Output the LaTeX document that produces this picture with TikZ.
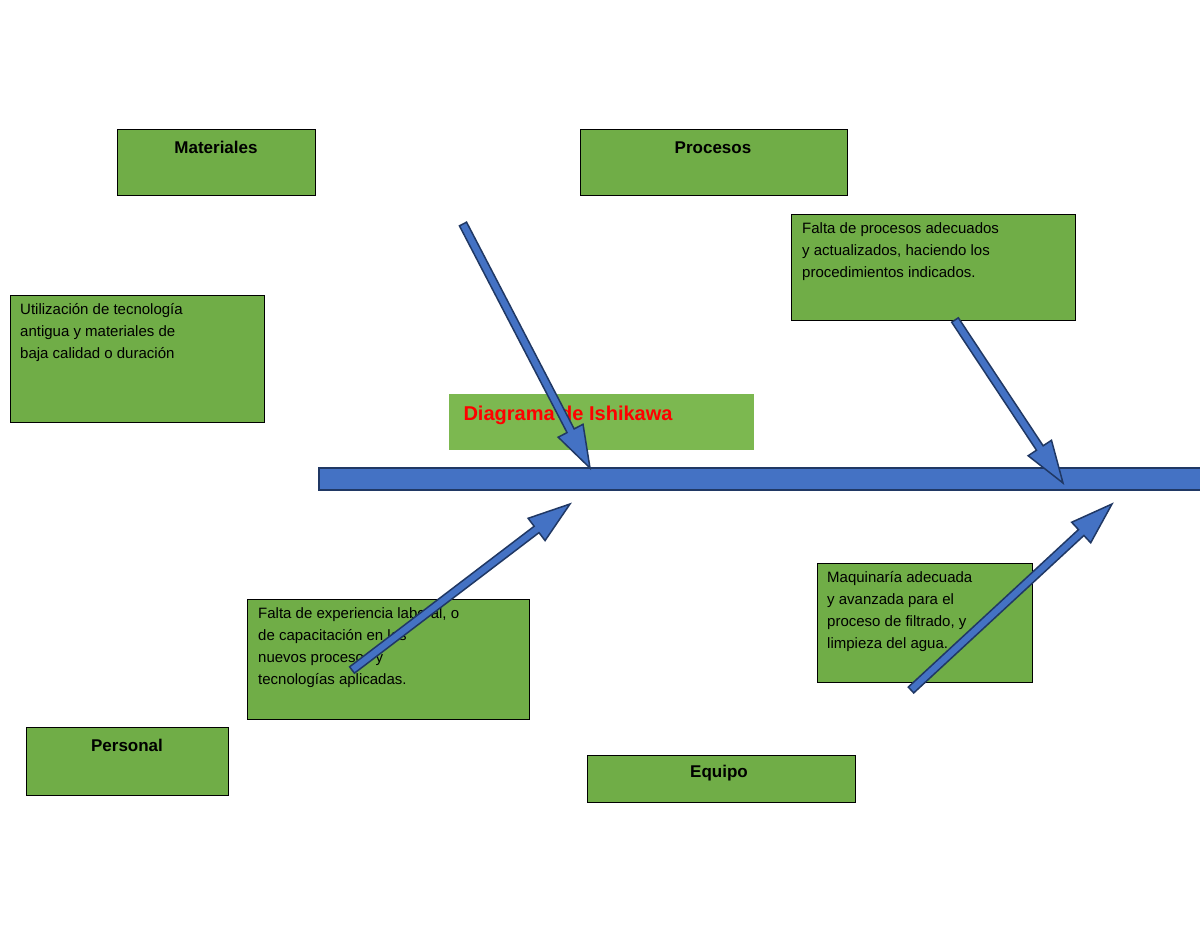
\documentclass[tikz,border=0pt]{standalone}
\usepackage{fontspec}
\setmainfont{Liberation Sans}
\usetikzlibrary{calc}
\definecolor{gbox}{HTML}{70AD47}
\definecolor{gtitle}{HTML}{7CB850}
\definecolor{bl}{HTML}{4472C4}
\definecolor{bld}{HTML}{203864}
\newcommand\blkarrow[2]{%
 \fill[bl,draw=bld,line width=1.5pt,line join=miter]
 ($(#1)!4pt!90:(#2)$) -- ($($(#2)!42pt!(#1)$)!4pt!-90:(#1)$) -- ($($(#2)!42pt!(#1)$)!14pt!-90:(#1)$) -- (#2)
 -- ($($(#2)!42pt!(#1)$)!14pt!90:(#1)$) -- ($($(#2)!42pt!(#1)$)!4pt!90:(#1)$) -- ($(#1)!4pt!-90:(#2)$) -- cycle;}
\begin{document}
\begin{tikzpicture}[x=1pt,y=-1pt,
 box/.style={draw=black,fill=gbox,line width=0.8pt},
 lab/.style={font=\fontsize{17}{20}\selectfont\bfseries},
 body/.style={font=\fontsize{15}{22}\selectfont,align=left,anchor=north west,inner sep=0pt}]
\useasboundingbox (0,0) rectangle (1200,927);
\fill[white] (0,0) rectangle (1200,927);
\draw[box] (117,129) rectangle (315,195); \node[lab] (mat) at (216,147) {Materiales};
\draw[box] (580,129) rectangle (847,195); \node[lab] (pro) at (713,148) {Procesos};
\draw[box] (10,295) rectangle (264,422);
\node[body] (t1) at (20,303) {Utilización de tecnología\\antigua y materiales de\\baja calidad o duración};
\draw[box] (791,214) rectangle (1075,320);
\node[body] (t2) at (802,222) {Falta de procesos adecuados\\y actualizados, haciendo los\\procedimientos indicados.};
\fill[gtitle] (449,394) rectangle (754,450);
\node[anchor=west,text=red,font=\fontsize{20}{24}\selectfont\bfseries] (tit) at (460,415) {Diagrama de Ishikawa};
\draw[box] (247,599) rectangle (529,719);
\node[body] (t3) at (258,607) {Falta de experiencia laboral, o\\de capacitación en los\\nuevos procesos y\\tecnologías aplicadas.};
\draw[box] (817,563) rectangle (1032,682);
\node[body] (t4) at (827,571) {Maquinaría adecuada\\y avanzada para el\\proceso de filtrado, y\\limpieza del agua.};
\draw[box] (26,727) rectangle (228,795); \node[lab] (per) at (127,745) {Personal};
\draw[box] (587,755) rectangle (855,802); \node[lab] (equ) at (719,773) {Equipo};
\fill[bl,draw=bld,line width=1.5pt] (319,468) rectangle (1202,490);
\coordinate (a1) at (463,224); \coordinate (b1) at (590,468);
\coordinate (a2) at (955,320); \coordinate (b2) at (1063,483);
\coordinate (a3) at (352,670); \coordinate (b3) at (570,504);
\coordinate (a4) at (911,690); \coordinate (b4) at (1112,504);
\blkarrow{a1}{b1}\blkarrow{a2}{b2}\blkarrow{a3}{b3}\blkarrow{a4}{b4}
\end{tikzpicture}
\end{document}
